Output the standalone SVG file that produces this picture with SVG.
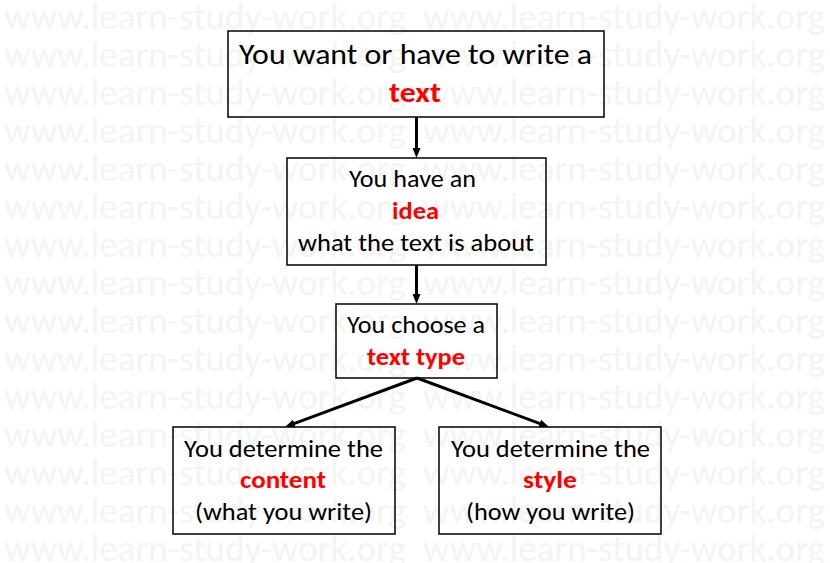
<svg xmlns="http://www.w3.org/2000/svg" width="830" height="563" viewBox="0 0 830 563">
<style>
.wm{font-family:Calibri,Carlito,"Open Sans","Liberation Sans",sans-serif;font-size:37px;fill:#f4f4f4}
.box{fill:none;stroke:#000;stroke-width:1.5}
.t{font-family:Calibri,Carlito,Lato,"Liberation Sans",sans-serif;fill:#000;text-anchor:middle}
.big{font-size:29px}
.sm{font-size:24px}
.red{fill:#ff0000;font-weight:bold}
.con{stroke:#000;stroke-width:3;fill:none}
</style>
<defs>
<marker id="ah" viewBox="0 0 10 8" refX="4" refY="4" markerWidth="10" markerHeight="8" markerUnits="userSpaceOnUse" orient="auto">
<path d="M0,0 L10,4 L0,8 Z" fill="#000"/>
</marker>
</defs>
<rect width="830" height="563" fill="#fff"/>
<g id="watermark">
<text class="wm" x="4" y="29" textLength="402" lengthAdjust="spacingAndGlyphs">www.learn-study-work.org</text>
<text class="wm" x="423" y="29" textLength="402" lengthAdjust="spacingAndGlyphs">www.learn-study-work.org</text>
<text class="wm" x="4" y="67" textLength="402" lengthAdjust="spacingAndGlyphs">www.learn-study-work.org</text>
<text class="wm" x="423" y="67" textLength="402" lengthAdjust="spacingAndGlyphs">www.learn-study-work.org</text>
<text class="wm" x="4" y="105" textLength="402" lengthAdjust="spacingAndGlyphs">www.learn-study-work.org</text>
<text class="wm" x="423" y="105" textLength="402" lengthAdjust="spacingAndGlyphs">www.learn-study-work.org</text>
<text class="wm" x="4" y="143" textLength="402" lengthAdjust="spacingAndGlyphs">www.learn-study-work.org</text>
<text class="wm" x="423" y="143" textLength="402" lengthAdjust="spacingAndGlyphs">www.learn-study-work.org</text>
<text class="wm" x="4" y="181" textLength="402" lengthAdjust="spacingAndGlyphs">www.learn-study-work.org</text>
<text class="wm" x="423" y="181" textLength="402" lengthAdjust="spacingAndGlyphs">www.learn-study-work.org</text>
<text class="wm" x="4" y="219" textLength="402" lengthAdjust="spacingAndGlyphs">www.learn-study-work.org</text>
<text class="wm" x="423" y="219" textLength="402" lengthAdjust="spacingAndGlyphs">www.learn-study-work.org</text>
<text class="wm" x="4" y="257" textLength="402" lengthAdjust="spacingAndGlyphs">www.learn-study-work.org</text>
<text class="wm" x="423" y="257" textLength="402" lengthAdjust="spacingAndGlyphs">www.learn-study-work.org</text>
<text class="wm" x="4" y="295" textLength="402" lengthAdjust="spacingAndGlyphs">www.learn-study-work.org</text>
<text class="wm" x="423" y="295" textLength="402" lengthAdjust="spacingAndGlyphs">www.learn-study-work.org</text>
<text class="wm" x="4" y="333" textLength="402" lengthAdjust="spacingAndGlyphs">www.learn-study-work.org</text>
<text class="wm" x="423" y="333" textLength="402" lengthAdjust="spacingAndGlyphs">www.learn-study-work.org</text>
<text class="wm" x="4" y="371" textLength="402" lengthAdjust="spacingAndGlyphs">www.learn-study-work.org</text>
<text class="wm" x="423" y="371" textLength="402" lengthAdjust="spacingAndGlyphs">www.learn-study-work.org</text>
<text class="wm" x="4" y="409" textLength="402" lengthAdjust="spacingAndGlyphs">www.learn-study-work.org</text>
<text class="wm" x="423" y="409" textLength="402" lengthAdjust="spacingAndGlyphs">www.learn-study-work.org</text>
<text class="wm" x="4" y="447" textLength="402" lengthAdjust="spacingAndGlyphs">www.learn-study-work.org</text>
<text class="wm" x="423" y="447" textLength="402" lengthAdjust="spacingAndGlyphs">www.learn-study-work.org</text>
<text class="wm" x="4" y="485" textLength="402" lengthAdjust="spacingAndGlyphs">www.learn-study-work.org</text>
<text class="wm" x="423" y="485" textLength="402" lengthAdjust="spacingAndGlyphs">www.learn-study-work.org</text>
<text class="wm" x="4" y="523" textLength="402" lengthAdjust="spacingAndGlyphs">www.learn-study-work.org</text>
<text class="wm" x="423" y="523" textLength="402" lengthAdjust="spacingAndGlyphs">www.learn-study-work.org</text>
<text class="wm" x="4" y="561" textLength="402" lengthAdjust="spacingAndGlyphs">www.learn-study-work.org</text>
<text class="wm" x="423" y="561" textLength="402" lengthAdjust="spacingAndGlyphs">www.learn-study-work.org</text>
</g>
<g id="connectors">
<path class="con" d="M416.5,117 L416.5,152" marker-end="url(#ah)"/>
<path class="con" d="M416.5,265 L416.5,298" marker-end="url(#ah)"/>
<path class="con" d="M417,378 L290.6,424.9" marker-end="url(#ah)"/>
<path class="con" d="M417,378 L543.4,424.9" marker-end="url(#ah)"/>
</g>
<g id="node-text">
<rect class="box" x="228" y="31" width="376" height="86"/>
<text class="t big" x="415.5" y="64" textLength="353" lengthAdjust="spacingAndGlyphs">You want or have to write a</text>
<text class="t big red" x="415" y="102" textLength="52" lengthAdjust="spacingAndGlyphs">text</text>
</g>
<g id="node-idea">
<rect class="box" x="287" y="158" width="259" height="107"/>
<text class="t sm" x="412.5" y="187" textLength="127" lengthAdjust="spacingAndGlyphs">You have an</text>
<text class="t sm red" x="415.5" y="219" textLength="47" lengthAdjust="spacingAndGlyphs">idea</text>
<text class="t sm" x="416" y="251" textLength="236" lengthAdjust="spacingAndGlyphs">what the text is about</text>
</g>
<g id="node-type">
<rect class="box" x="336" y="304" width="161" height="74"/>
<text class="t sm" x="416" y="333" textLength="138" lengthAdjust="spacingAndGlyphs">You choose a</text>
<text class="t sm red" x="416" y="365" textLength="98" lengthAdjust="spacingAndGlyphs">text type</text>
</g>
<g id="node-content">
<rect class="box" x="173" y="427" width="222" height="107"/>
<text class="t sm" x="283.5" y="457" textLength="199" lengthAdjust="spacingAndGlyphs">You determine the</text>
<text class="t sm red" x="283" y="488" textLength="86" lengthAdjust="spacingAndGlyphs">content</text>
<text class="t sm" x="283.5" y="520" textLength="177" lengthAdjust="spacingAndGlyphs">(what you write)</text>
</g>
<g id="node-style">
<rect class="box" x="439" y="427" width="222" height="107"/>
<text class="t sm" x="550.5" y="457" textLength="199" lengthAdjust="spacingAndGlyphs">You determine the</text>
<text class="t sm red" x="550" y="488" textLength="54" lengthAdjust="spacingAndGlyphs">style</text>
<text class="t sm" x="550.5" y="520" textLength="169" lengthAdjust="spacingAndGlyphs">(how you write)</text>
</g>
</svg>
